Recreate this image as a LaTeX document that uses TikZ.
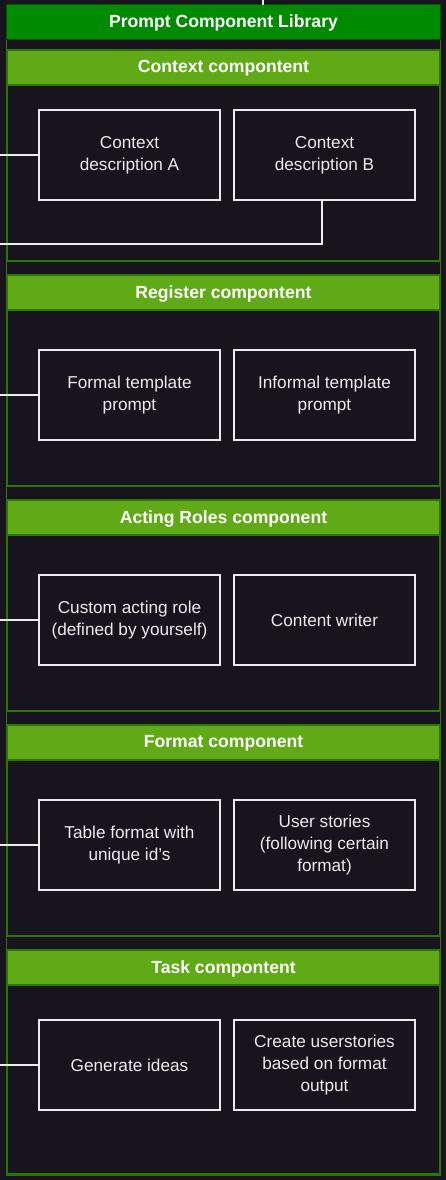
\documentclass[tikz,border=0pt]{standalone}
\usepackage{fontspec}
\setmainfont{Liberation Sans}
\begin{document}
\begin{tikzpicture}[x=1pt,y=-1pt,
  libtitle/.style={draw=libstroke,fill=libfill,line width=1pt},
  headtext/.style={text=white,font=\fontsize{17.6}{20}\selectfont\bfseries,inner sep=0pt},
  sechead/.style={draw=secstroke,fill=secfill,line width=1.5pt},
  secbody/.style={draw=secstroke,fill=bgdark,line width=1.5pt},
  itembox/.style={draw=white!92!black,fill=bgdark,line width=1.6pt,text=white!92!black,minimum width=181pt,minimum height=90pt,align=center,font=\fontsize{17.2}{22}\selectfont,inner sep=2pt},
  conn/.style={draw=white!92!black,line width=1.5pt}
]
\definecolor{bgdark}{HTML}{18141D}
\definecolor{libfill}{HTML}{008A00}
\definecolor{libstroke}{HTML}{005700}
\definecolor{secfill}{HTML}{60A917}
\definecolor{secstroke}{HTML}{2D7600}
\useasboundingbox (0,0) rectangle (446,1180);
\fill[bgdark] (0,0) rectangle (446,1180);
% outer library container
\draw[secstroke,line width=1.5pt,fill=bgdark] (6.5,5) rectangle (440.5,1175);
\draw[libtitle] (6.5,5) rectangle (440.5,40);
\node[headtext] (lib) at (223.5,22.5) {Prompt Component Library};
\coordinate (topin) at (263,0);
\draw[conn] (topin) -- (263,5);
% sections
\foreach \i/\t in {0/Context compontent,1/Register compontent,2/Acting Roles component,3/Format component,4/Task compontent}{
  \pgfmathsetmacro{\yo}{225*\i}
  \draw[secbody] (7.5,85+\yo) rectangle (439.5,261+\yo);
  \draw[sechead] (7.5,50+\yo) rectangle (439.5,85+\yo);
  \node[headtext] (h\i) at (223.5,68.5+\yo) {\t};
}
\draw[secbody] (7.5,1160) -- (7.5,1174) -- (439.5,1174) -- (439.5,1160);
% items
\node[itembox] (ca) at (129.5,155) {Context\\description A};
\node[itembox] (cb) at (324.5,155) {Context\\description B};
\node[itembox] (ra) at (129.5,395) {Formal template\\prompt};
\node[itembox] (rb) at (324.5,395) {Informal template\\prompt};
\node[itembox] (aa) at (129.5,620) {Custom acting role\\(defined by yourself)};
\node[itembox] (ab) at (324.5,620) {Content writer};
\node[itembox] (fa) at (129.5,845) {Table format with\\unique id's};
\node[itembox] (fb) at (324.5,845) {User stories\\(following certain\\format)};
\node[itembox] (ta) at (129.5,1065) {Generate ideas};
\node[itembox] (tb) at (324.5,1065) {Create userstories\\based on format\\output};
% connectors
\coordinate (lca) at (0,155);
\coordinate (lcb) at (0,244);
\coordinate (lra) at (0,395);
\coordinate (laa) at (0,620);
\coordinate (lfa) at (0,845);
\coordinate (lta) at (0,1065);
\draw[conn] (lca) -- (ca.west);
\draw[conn] (cb.south) ++(-2.5,0) |- (lcb);
\draw[conn] (lra) -- (ra.west);
\draw[conn] (laa) -- (aa.west);
\draw[conn] (lfa) -- (fa.west);
\draw[conn] (lta) -- (ta.west);
\end{tikzpicture}
\end{document}
